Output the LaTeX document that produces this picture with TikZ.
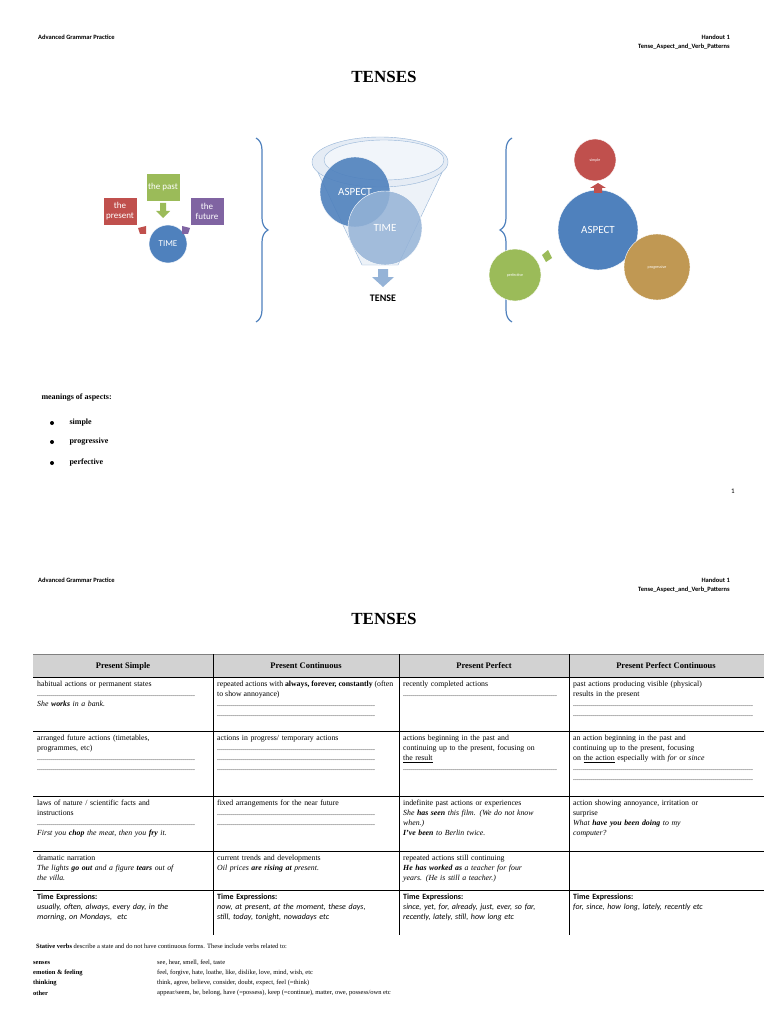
\documentclass[tikz,border=0pt]{standalone}
\usepackage{fontspec}
\setmainfont{Liberation Serif}
\newfontfamily\calfont{Carlito}
\usetikzlibrary{shapes.geometric,arrows.meta,decorations.pathreplacing}
\definecolor{blu}{RGB}{79,129,189}
\definecolor{lblu}{RGB}{149,179,215}
\definecolor{rd}{RGB}{192,80,77}
\definecolor{gr}{RGB}{155,187,89}
\definecolor{pu}{RGB}{128,100,162}
\definecolor{br}{RGB}{192,152,83}
\definecolor{hd}{RGB}{210,210,210}
\newcommand{\dl}[1]{\makebox[#1pt]{\leaders\hbox to 2pt{\hss.\hss}\hfill}}
\tikzset{cell/.style={anchor=north west,align=left,inner sep=0pt,font=\fontsize{7.8}{10}\selectfont},
sm/.style={font=\calfont\bfseries\fontsize{6.5}{8}\selectfont,inner sep=0pt},
box/.style={draw=white,minimum width=34pt,minimum height=28pt,align=center,text=white,font=\calfont\fontsize{9}{10}\selectfont,inner sep=1pt},
circ/.style={circle,draw=white,text=white,font=\calfont\fontsize{7}{8}\selectfont}}
\begin{document}
\begin{tikzpicture}[x=1pt,y=-1pt]
\useasboundingbox[fill=white] (0,0) rectangle (768,1024);
% page 1
\node[sm,anchor=west] (h1) at (38,37) {Advanced Grammar Practice};
\node[sm,anchor=east] (h2) at (730,37) {Handout 1};
\node[sm,anchor=east] (h3) at (730,47) {Tense\_Aspect\_and\_Verb\_Patterns};
\node[font=\bfseries\fontsize{17}{18}\selectfont] (t1) at (384,77) {TENSES};
% left diagram
\node[box,fill=rd] (pres) at (120,211) {the\\present};
\node[box,fill=gr] (past) at (163,187) {the past};
\node[box,fill=pu] (fut) at (207,211) {the\\future};
\node[circ,fill=blu,minimum size=38pt,font=\calfont\fontsize{9}{10}\selectfont] (time) at (168,244) {TIME};
\fill[gr] (160,203) rectangle (166,211) (156,211)--(170,211)--(163,218)--cycle;
\fill[rd] (138,228) -- (146,226) -- (146,234) -- (140,234) -- cycle;
\fill[pu] (190,228) -- (182,226) -- (182,234) -- (188,234) -- cycle;
\draw[blu,line width=1.2pt,decorate,decoration={brace,amplitude=12pt}] (256,138) -- (256,322);
% funnel
\draw[blu!60,fill=blu!10] (313,162) -- (362,265) -- (398,265) -- (447,162);
\draw[blu!60,fill=blu!15] (380,162) ellipse (68 and 25);
\draw[blu!60,fill=blu!8] (384,160) ellipse (60 and 20);
\node[circ,fill=blu,fill opacity=0.9,text opacity=1,minimum size=70pt,font=\calfont\fontsize{11}{12}\selectfont] (asp) at (355,192) {ASPECT};
\node[circ,fill=lblu,fill opacity=0.85,text opacity=1,minimum size=74pt,font=\calfont\fontsize{11}{12}\selectfont] (tm) at (385,228) {TIME};
\fill[lblu] (378,269) rectangle (388,277) (372,277)--(394,277)--(383,287)--cycle;
\node[font=\calfont\bfseries\fontsize{10}{12}\selectfont] (tense) at (383,298) {TENSE};
\draw[blu,line width=1.2pt,decorate,decoration={brace,amplitude=12pt}] (512,322) -- (512,138);
% right diagram
\node[circ,fill=rd,minimum size=42pt,font=\calfont\fontsize{4}{5}\selectfont] (simple) at (595,160) {simple};
\node[circ,fill=blu,minimum size=80pt,font=\calfont\fontsize{11}{12}\selectfont] (asp2) at (598,230) {ASPECT};
\node[circ,fill=br,minimum size=66pt,font=\calfont\fontsize{4}{5}\selectfont] (prog) at (657,267) {progressive};
\node[circ,fill=gr,minimum size=52pt,font=\calfont\fontsize{4}{5}\selectfont] (perf) at (515,275) {perfective};
\fill[rd] (594,193) rectangle (602,188) (590,188)--(606,188)--(598,183)--cycle;
\fill[gr] (542,255) -- (548,250) -- (552,258) -- (546,262) -- cycle;
\node[font=\bfseries\fontsize{8}{9}\selectfont,anchor=west] (mean) at (38,398) {meanings of aspects:};
\foreach \y/\t in {423/simple,442/progressive,463/perfective}{
 \fill (52,\y) circle (2);
 \node[font=\bfseries\fontsize{8}{9}\selectfont,anchor=west] at (66,\y) {\t};}
\node[font=\calfont\fontsize{7}{8}\selectfont] (pg) at (733,491) {1};
% page 2
\node[sm,anchor=west] (h4) at (38,580) {Advanced Grammar Practice};
\node[sm,anchor=east] (h5) at (730,580) {Handout 1};
\node[sm,anchor=east] (h6) at (730,590) {Tense\_Aspect\_and\_Verb\_Patterns};
\node[font=\bfseries\fontsize{17}{18}\selectfont] (t2) at (384,619) {TENSES};
% table
\fill[hd] (33,654) rectangle (764,677);
\draw[line width=0.5pt,gray] (33,654) -- (764,654);
\foreach \y in {677,731,796,851,890}{\draw[line width=1pt] (33,\y) -- (764,\y);}
\foreach \x in {213,399,569}{\draw[line width=0.8pt] (\x,654) -- (\x,935);}
\foreach \x/\t in {123/Present Simple,306/Present Continuous,484/Present Perfect,666/Present Perfect Continuous}
 \node[font=\bfseries\fontsize{8.5}{9}\selectfont] at (\x,666) {\t};
\tikzset{c1/.style={cell,text width=172pt},c2/.style={cell,text width=178pt},c3/.style={cell,text width=162pt},c4/.style={cell,text width=190pt}}
\node[c1] at (37,681) {habitual actions or permanent states\\ \dl{158}\\ \textit{She \textbf{works} in a bank.}};
\node[c2,text width=176pt,align=justify] at (217,681) {repeated actions with \textbf{always, forever,} \textbf{constantly} (often to show annoyance)\\ \dl{158}\\ \dl{158}};
\node[c3] at (403,681) {recently completed actions\\ \dl{155}};
\node[c4] at (573,681) {past actions producing visible (physical)\\ results in the present\\ \dl{180}\\ \dl{180}};
\node[c1] at (37,735) {arranged future actions (timetables,\\ programmes, etc)\\ \dl{158}\\ \dl{158}};
\node[c2] at (217,735) {actions in progress/ temporary actions\\ \dl{158}\\ \dl{158}\\ \dl{158}};
\node[c3] at (403,735) {actions beginning in the past and\\ continuing up to the present, focusing on\\ \underline{the result}\\ \dl{155}};
\node[c4] at (573,735) {an action beginning in the past and\\ continuing up to the present, focusing\\ on \underline{the action} especially with \textit{for} or \textit{since}\\ \dl{180}\\ \dl{180}};
\node[c1] at (37,800) {laws of nature / scientific facts and\\ instructions\\ \dl{158}\\ \textit{First you \textbf{chop} the meat, then you \textbf{fry} it.}};
\node[c2] at (217,800) {fixed arrangements for the near future\\ \dl{158}\\ \dl{158}};
\node[c3] at (403,800) {indefinite past actions or experiences\\ \textit{She \textbf{has seen} this film. (We do not know\\ when.)}\\ \textit{\textbf{I've been} to Berlin twice.}};
\node[c4] at (573,800) {action showing annoyance, irritation or\\ surprise\\ \textit{What \textbf{have you been doing} to my\\ computer?}};
\node[c1] at (37,855) {dramatic narration\\ \textit{The lights \textbf{go out} and a figure \textbf{tears} out of\\ the villa.}};
\node[c2] at (217,855) {current trends and developments\\ \textit{Oil prices \textbf{are rising at} present.}};
\node[c3] at (403,855) {repeated actions still continuing\\ \textit{\textbf{He has worked as} a teacher for four\\ years. (He is still a teacher.)}};
\tikzset{te/.style={cell,font=\calfont\fontsize{8}{10}\selectfont}}
\node[te,text width=172pt] at (37,894) {\textbf{Time Expressions:}\\ \textit{usually, often, always, every day, in the\\ morning, on Mondays,\ \ etc}};
\node[te,text width=178pt] at (217,894) {\textbf{Time Expressions:}\\ \textit{now, at present, at the moment, these days,\\ still, today, tonight, nowadays etc}};
\node[te,text width=162pt] at (403,894) {\textbf{Time Expressions:}\\ \textit{since, yet, for, already, just, ever, so far,\\ recently, lately, still, how long etc}};
\node[te,text width=190pt] at (573,894) {\textbf{Time Expressions:}\\ \textit{for, since, how long, lately, recently etc}};
% stative
\tikzset{st/.style={anchor=west,inner sep=0pt,font=\fontsize{6.5}{8}\selectfont}}
\node[st] at (36,946) {\textbf{Stative verbs} describe a state and do not have continuous forms. These include verbs related to:};
\foreach \y/\a/\b in {963/senses/{see, hear, smell, feel, taste},973/emotion \& feeling/{feel, forgive, hate, loathe, like, dislike, love, mind, wish, etc},983/thinking/{think, agree, believe, consider, doubt, expect, feel (=think)},993/other/{appear/seem, be, belong, have (=possess), keep (=continue), matter, owe, possess/own etc}}{
 \node[st] at (33,\y) {\textbf{\a}}; \node[st] at (157,\y) {\b};}
\end{tikzpicture}
\end{document}
